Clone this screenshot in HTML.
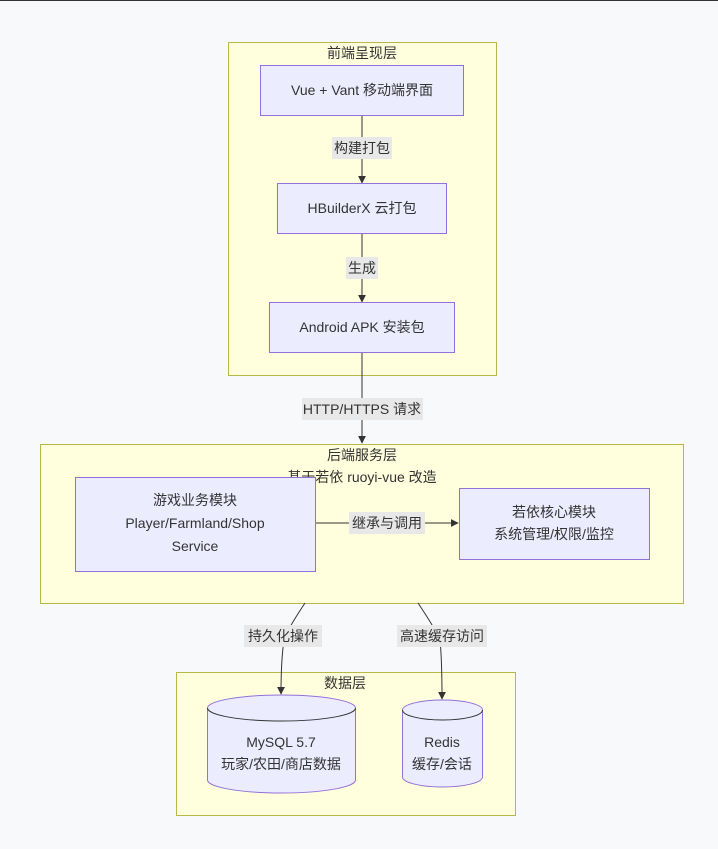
<!DOCTYPE html>
<html><head><meta charset="utf-8"><style>
html,body{margin:0;padding:0;background:#f8f9fb;}
svg{display:block;}
text{font-family:"Liberation Sans","Noto Sans CJK SC",sans-serif;font-size:14px;fill:#333;text-anchor:middle;dominant-baseline:central;}
.cl{fill:#ffffde;stroke:#b8b84a;stroke-width:1;}
.nd{fill:#ececff;stroke:#9370db;stroke-width:1;}
.ed{stroke:#333;stroke-width:1;fill:none;}
.lb{fill:#e8e8e8;}
</style></head><body>
<svg width="718" height="849" viewBox="0 0 718 849" xmlns="http://www.w3.org/2000/svg">
<defs><marker id="a" viewBox="0 0 10 10" refX="9" refY="5" markerWidth="8" markerHeight="8" orient="auto"><path d="M0,0L10,5L0,10z" fill="#333"/></marker></defs>
<line x1="0" y1="0.5" x2="718" y2="0.5" stroke="#333"/>
<rect class="cl" x="228.5" y="42.5" width="268" height="333"/>
<text x="362" y="53">前端呈现层</text>
<rect class="cl" x="40.5" y="444.5" width="643" height="159"/>
<text x="362" y="455">后端服务层</text>
<text x="362" y="477">基于若依 ruoyi-vue 改造</text>
<rect class="cl" x="176.5" y="672.5" width="339" height="143"/>
<text x="345" y="683">数据层</text>

<line class="ed" x1="362" y1="115" x2="362" y2="183" marker-end="url(#a)"/>
<rect class="lb" x="332" y="137" width="60" height="22"/><text x="362" y="148">构建打包</text>
<line class="ed" x1="362" y1="233" x2="362" y2="302" marker-end="url(#a)"/>
<rect class="lb" x="346" y="257" width="32" height="22"/><text x="362" y="268">生成</text>
<line class="ed" x1="362" y1="352" x2="362" y2="443" marker-end="url(#a)"/>
<rect class="lb" x="302" y="398" width="121" height="22"/><text x="362" y="409">HTTP/HTTPS 请求</text>

<rect class="nd" x="260.5" y="65.5" width="203" height="50"/>
<text x="362" y="90">Vue + Vant 移动端界面</text>
<rect class="nd" x="277.5" y="183.5" width="169" height="50"/>
<text x="362" y="208">HBuilderX 云打包</text>
<rect class="nd" x="269.5" y="302.5" width="185" height="50"/>
<text x="362" y="327">Android APK 安装包</text>

<rect class="nd" x="75.5" y="477.5" width="240" height="94"/>
<text x="195" y="500">游戏业务模块</text>
<text x="195" y="523">Player/Farmland/Shop</text>
<text x="195" y="546">Service</text>
<rect class="nd" x="459.5" y="488.5" width="190" height="71"/>
<text x="554" y="512">若依核心模块</text>
<text x="554" y="534">系统管理/权限/监控</text>
<line class="ed" x1="316" y1="523" x2="458" y2="523" marker-end="url(#a)"/>
<rect class="lb" x="349" y="512" width="76" height="22"/><text x="387" y="523">继承与调用</text>

<path class="ed" d="M305,603 Q287,630 284,640 Q281,660 281,694" marker-end="url(#a)"/>
<path class="ed" d="M418,603 Q436,630 440,640 Q442,660 442,699" marker-end="url(#a)"/>
<rect class="lb" x="244" y="625" width="78" height="22"/><text x="283" y="636">持久化操作</text>
<rect class="lb" x="397" y="625" width="90" height="22"/><text x="442" y="636">高速缓存访问</text>

<path class="nd" d="M207.5,708 A74,13 0 0 1 355.5,708 L355.5,780 A74,13 0 0 1 207.5,780 Z"/>
<path class="ed" d="M207.5,708 A74,13 0 0 0 355.5,708" stroke="#9370db"/>
<text x="281" y="742">MySQL 5.7</text>
<text x="281" y="764">玩家/农田/商店数据</text>
<path class="nd" d="M402.5,710 A40,10 0 0 1 482.5,710 L482.5,777 A40,10 0 0 1 402.5,777 Z"/>
<path class="ed" d="M402.5,710 A40,10 0 0 0 482.5,710" stroke="#9370db"/>
<text x="442" y="742">Redis</text>
<text x="442" y="764">缓存/会话</text>
</svg>
</body></html>
